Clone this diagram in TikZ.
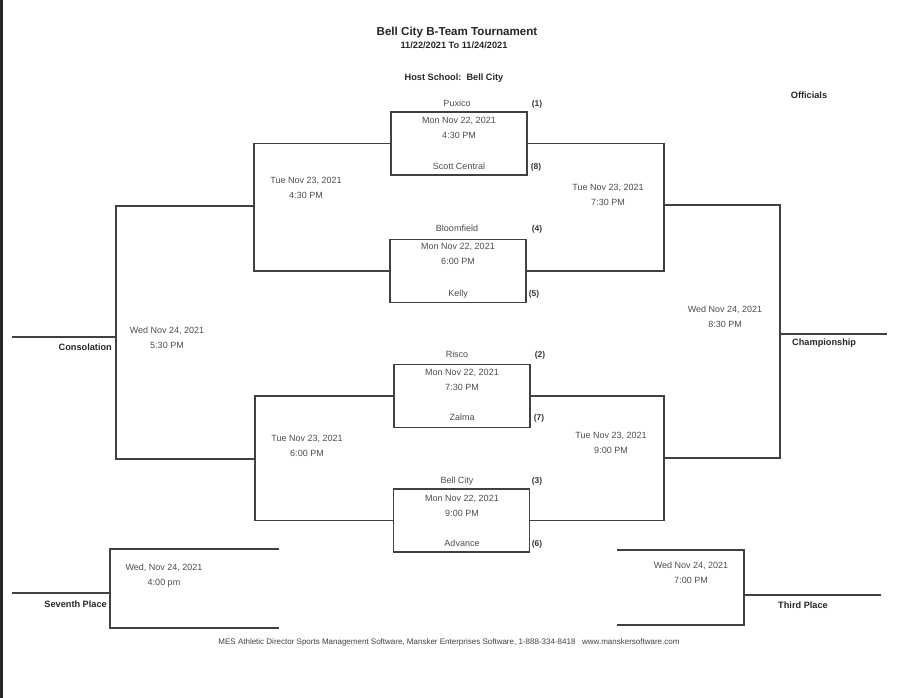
\documentclass[tikz,border=0pt]{standalone}
\usepackage{fontspec}
\setmainfont{Liberation Sans}
\usetikzlibrary{positioning}
\tikzset{
    game/.style = {rectangle, draw=black!75, line width=1.3pt, minimum width=136pt, minimum height=63pt, inner sep=0pt},
    bracket/.style = {draw=black!75, line width=1.3pt},
    datetxt/.style = {text=black!70, font=\fontsize{9}{10}\selectfont, text height=6.7pt, text depth=1.9pt, inner sep=0pt},
    teamtxt/.style = {datetxt},
    seedtxt/.style = {text=black!80, font=\fontsize{8.4}{10}\selectfont\bfseries, inner sep=0pt},
    headtxt/.style = {text=black!85, font=\fontsize{9.2}{11}\selectfont\bfseries, inner sep=0pt},
    placetxt/.style = {headtxt},
    foottxt/.style = {text=black!75, font=\fontsize{8}{9}\selectfont, inner sep=0pt},
    node distance=6.4pt
}
\begin{document}
\begin{tikzpicture}[x=1pt,y=-1pt]
\path[use as bounding box] (0,0) rectangle (921,698);
\fill[black!85] (0,0) rectangle (2.5,698);
%
\node[headtxt, font=\fontsize{11.6}{13}\selectfont\bfseries] at (457,33) (title) {Bell City B-Team Tournament};
\node[headtxt] at (454,45) (span) {11/22/2021 To 11/24/2021};
\node[headtxt] at (454,78) (host) {Host School:\ \ Bell City};
\node[headtxt] at (809,95) (officials) {Officials};
%
\node[game] at (459,143.5) (g1) {};
\node[game] at (458,271) (g2) {};
\node[game] at (462,396) (g3) {};
\node[game] at (461.5,520.5) (g4) {};
%
\node[teamtxt] at (457,104) (t1) {Puxico};
\node[teamtxt] at (459,167) (t8) {Scott Central};
\node[teamtxt] at (457,229) (t4) {Bloomfield};
\node[teamtxt] at (458,294) (t5) {Kelly};
\node[teamtxt] at (457,355) (t2) {Risco};
\node[teamtxt] at (462,418) (t7) {Zalma};
\node[teamtxt] at (457,481) (t3) {Bell City};
\node[teamtxt] at (462,544) (t6) {Advance};
%
\node[seedtxt] at (537,104) (s1) {(1)};
\node[seedtxt] at (536,167) (s8) {(8)};
\node[seedtxt] at (537,229) (s4) {(4)};
\node[seedtxt] at (534,294) (s5) {(5)};
\node[seedtxt] at (540,355) (s2) {(2)};
\node[seedtxt] at (539,418) (s7) {(7)};
\node[seedtxt] at (537,481) (s3) {(3)};
\node[seedtxt] at (537,544) (s6) {(6)};
%
\node[datetxt] at (459,121) (d1) {Mon Nov 22, 2021};
\node[datetxt, below=of d1] (h1) {4:30 PM};
\node[datetxt] at (458,247) (d2) {Mon Nov 22, 2021};
\node[datetxt, below=of d2] (h2) {6:00 PM};
\node[datetxt] at (462,373) (d3) {Mon Nov 22, 2021};
\node[datetxt, below=of d3] (h3) {7:30 PM};
\node[datetxt] at (462,499) (d4) {Mon Nov 22, 2021};
\node[datetxt, below=of d4] (h4) {9:00 PM};
%
\node[datetxt] at (306,181) (q1) {Tue Nov 23, 2021};
\node[datetxt, below=of q1] (qh1) {4:30 PM};
\node[datetxt] at (307,439) (q2) {Tue Nov 23, 2021};
\node[datetxt, below=of q2] (qh2) {6:00 PM};
\node[datetxt] at (608,188) (q3) {Tue Nov 23, 2021};
\node[datetxt, below=of q3] (qh3) {7:30 PM};
\node[datetxt] at (611,436) (q4) {Tue Nov 23, 2021};
\node[datetxt, below=of q4] (qh4) {9:00 PM};
%
\node[datetxt] at (167,331) (c1) {Wed Nov 24, 2021};
\node[datetxt, below=of c1] (ch1) {5:30 PM};
\node[datetxt] at (725,310) (f1) {Wed Nov 24, 2021};
\node[datetxt, below=of f1] (fh1) {8:30 PM};
\node[datetxt] at (164,568) (p7) {Wed, Nov 24, 2021};
\node[datetxt, below=of p7] (ph7) {4:00 pm};
\node[datetxt] at (691,566) (p3) {Wed Nov 24, 2021};
\node[datetxt, below=of p3] (ph3) {7:00 PM};
%
\node[placetxt, anchor=east] at (112,347) (consname) {Consolation};
\node[placetxt, anchor=west] at (792,343) (champname) {Championship};
\node[placetxt, anchor=east] at (107,604) (sevname) {Seventh Place};
\node[placetxt] at (803,605) (thirdname) {Third Place};
%
\coordinate (lA) at (254,206);
\coordinate (lB) at (255,459);
\coordinate (rA) at (664,205);
\coordinate (rB) at (664,458);
\coordinate (cons) at (116,337);
\coordinate (consEnd) at (12,337);
\coordinate (champ) at (780,334);
\coordinate (champEnd) at (887,334);
\coordinate (sevTop) at (279,549);
\coordinate (sev) at (110,593);
\coordinate (sevBot) at (279,628);
\coordinate (sevEnd) at (12,593);
\coordinate (thTop) at (617,550);
\coordinate (th) at (744,595);
\coordinate (thBot) at (617,625);
\coordinate (thEnd) at (881,595);
%
\draw[bracket] (g1.west) -| (lA) |- (g2.west);
\draw[bracket] (g3.west) -| (lB) |- (g4.west);
\draw[bracket] (g1.east) -| (rA) |- (g2.east);
\draw[bracket] (g3.east) -| (rB) |- (g4.east);
\draw[bracket] (lA) -| (cons) |- (lB);
\draw[bracket] (cons) -- (consEnd);
\draw[bracket] (rA) -| (champ) |- (rB);
\draw[bracket] (champ) -- (champEnd);
\draw[bracket] (sevTop) -| (sev) |- (sevBot);
\draw[bracket] (sev) -- (sevEnd);
\draw[bracket] (thTop) -| (th) |- (thBot);
\draw[bracket] (th) -- (thEnd);
%
\node[foottxt] at (449,642) (footer) {MES Athletic Director Sports Management Software, Mansker Enterprises Software, 1-888-334-8418\ \ \ www.manskersoftware.com};
\end{tikzpicture}
\end{document}
